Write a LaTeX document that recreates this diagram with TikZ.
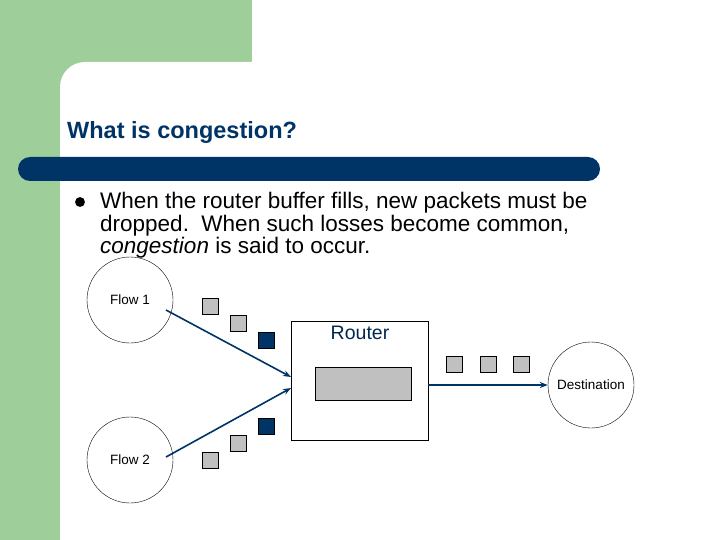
\documentclass[tikz,border=0pt]{standalone}
\usepackage{fontspec}
\setmainfont{Liberation Sans}
\usetikzlibrary{arrows.meta}
\definecolor{navy}{HTML}{003366}
\definecolor{leaf}{HTML}{9ECE9A}
\definecolor{pk}{HTML}{C0C0C0}
\begin{document}
\begin{tikzpicture}[x=1pt,y=-1pt,
  circ/.style={draw,circle,minimum size=86pt,inner sep=0pt,font=\fontsize{13.5}{15}\selectfont},
  gpk/.style={draw,fill=pk,minimum size=16pt,inner sep=0pt},
  npk/.style={draw,fill=navy,minimum size=16pt,inner sep=0pt},
  body/.style={anchor=base west,inner sep=0pt,font=\fontsize{22.5}{23}\selectfont},
  arr/.style={draw=navy,line width=1.6pt,-{Stealth[length=8pt]}}]
\useasboundingbox (0,0) rectangle (720,540);
\fill[leaf] (0,0) rectangle (252,62);
\fill[leaf] (0,0) rectangle (60,540);
\fill[leaf] (55,55) rectangle (90,92);
\fill[white] (60,540) -- (60,87) arc[start angle=180,end angle=270,radius=25] -- (252,62) -- (720,62) -- (720,540) -- cycle;
\fill[navy,rounded corners=12pt] (18,157) rectangle (600,181);
\node[anchor=base west,inner sep=0pt,text=navy,font=\bfseries\fontsize{23.5}{25}\selectfont] (title) at (67,139) {What is congestion?};
\node[circle,fill=black,inner sep=3.5pt] (bul) at (80,202) {};
\node[body] (t1) at (100,208) {When the router buffer fills, new packets must be};
\node[body] (t2) at (100,231) {dropped.\ \ When such losses become common,};
\node[body] (t3) at (100,254) {\textit{congestion} is said to occur.};
\node[circ] (f1) at (130,300) {Flow 1};
\node[circ] (f2) at (130,460) {Flow 2};
\node[circ] (dst) at (591,385) {Destination};
\node[draw,minimum width=137pt,minimum height=119pt,inner sep=0pt] (rt) at (359.5,380.5) {};
\node[font=\fontsize{19.5}{21}\selectfont,text=navy!80!black] (rl) at (360,333) {Router};
\node[draw,fill=pk,minimum width=96pt,minimum height=33pt,inner sep=0pt] (buf) at (363,383.5) {};
\node[gpk] (a1) at (210,306) {};
\node[gpk] (a2) at (238,323) {};
\node[npk] (a3) at (266,340) {};
\node[npk] (b3) at (266,426) {};
\node[gpk] (b2) at (238,443) {};
\node[gpk] (b1) at (210,460) {};
\node[gpk] (c1) at (454,364) {};
\node[gpk] (c2) at (488,364) {};
\node[gpk] (c3) at (521,364) {};
\coordinate (in1) at (291,377);
\coordinate (in2) at (291,388);
\coordinate (o1) at (166,310);
\coordinate (o2) at (166,457);
\draw[arr] (o1) -- (in1);
\draw[arr] (o2) -- (in2);
\draw[arr] (rt.east |- dst.west) -- (dst.west);
\end{tikzpicture}
\end{document}
